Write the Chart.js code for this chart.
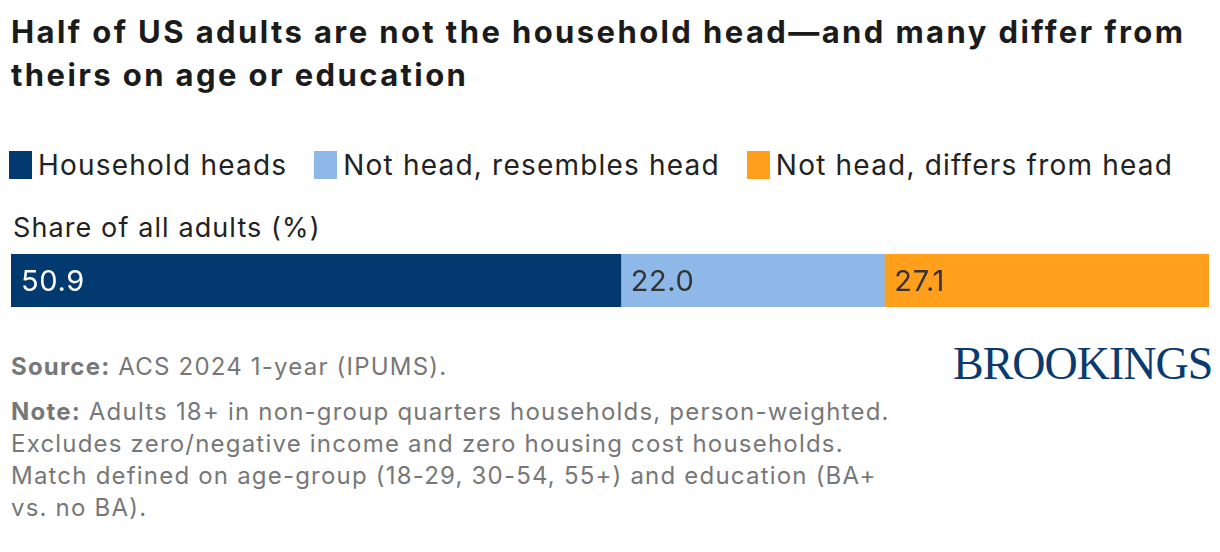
<!DOCTYPE html>
<html><head><meta charset="utf-8">
<script src="https://cdn.jsdelivr.net/npm/chart.js@4.4.1/dist/chart.umd.min.js"></script>
<style>
html,body{margin:0;padding:0;background:#fff;width:1220px;height:552px;overflow:hidden;font-family:Inter,"Noto Sans",sans-serif;}
#title{position:absolute;left:11px;top:10px;width:1205px;font-size:31px;font-weight:700;line-height:43px;color:#1b1b1b;letter-spacing:2.4px;}
#legend{position:absolute;left:9px;top:148px;display:flex;align-items:center;font-size:28px;color:#222;letter-spacing:1.2px;}
.li{display:flex;align-items:center;margin-right:27px;}
.sw{width:23px;height:28px;margin-right:6px;}
#axlabel{position:absolute;left:13px;top:211px;font-size:27px;color:#222;letter-spacing:1.1px;}
#wrap{position:absolute;left:11px;top:254px;width:1198px;height:53px;}
#notes{position:absolute;left:11px;top:351px;font-size:24px;color:#777;line-height:32px;width:950px;letter-spacing:1.2px;}
#notes p{margin:0;}
#notes p.src{margin-bottom:13px;}
#notes b{font-weight:700;}
#logo{position:absolute;left:953px;top:337px;font-family:"Liberation Serif","DejaVu Serif",serif;font-size:46px;color:#0a3a6e;letter-spacing:-1px;}
</style></head>
<body>
<div id="title">Half of US adults are not the household head—and many differ from theirs on age or education</div>
<div id="legend"></div>
<div id="axlabel">Share of all adults (%)</div>
<div id="wrap"><canvas id="c"></canvas></div>
<div id="notes">
<p class="src"><b>Source:</b> ACS 2024 1-year (IPUMS).</p>
<p><b>Note:</b> Adults 18+ in non-group quarters households, person-weighted.<br>Excludes zero/negative income and zero housing cost households.<br>Match defined on age-group (18-29, 30-54, 55+) and education (BA+<br>vs. no BA).</p>
</div>
<div id="logo">BROOKINGS</div>
<script>
const categories = ["Share of all adults (%)"];
const seriesNames = ["Household heads", "Not head, resembles head", "Not head, differs from head"];
const householdHeads = [50.9];
const resemblesHead = [22.0];
const differsFromHead = [27.1];
const seriesColors = ["#023a70", "#8db8e8", "#ff9f1c"];
const labelColors = ["#ffffff", "#333333", "#333333"];

const lg = document.getElementById('legend');
seriesNames.forEach((n,i)=>{
  const d=document.createElement('div');d.className='li';
  d.innerHTML='<span class="sw" style="background:'+seriesColors[i]+'"></span><span>'+n+'</span>';
  lg.appendChild(d);
});

const labelPlugin = {
  id:'barLabels',
  afterDatasetsDraw(chart){
    const ctx=chart.ctx;
    chart.data.datasets.forEach((ds,di)=>{
      const meta=chart.getDatasetMeta(di);
      meta.data.forEach((el,i)=>{
        const left=Math.min(el.x,el.base);
        ctx.save();
        ctx.font='29px Inter';
        try{ctx.letterSpacing='0.6px';}catch(e){}
        ctx.fillStyle=labelColors[di];
        ctx.textBaseline='middle';
        ctx.textAlign='left';
        ctx.fillText(ds.data[i].toFixed(1), left+10, el.y+2);
        ctx.restore();
      });
    });
  }
};

new Chart(document.getElementById('c'),{
  type:'bar',
  data:{labels:categories,datasets:[
    {label:seriesNames[0],data:householdHeads,backgroundColor:seriesColors[0]},
    {label:seriesNames[1],data:resemblesHead,backgroundColor:seriesColors[1]},
    {label:seriesNames[2],data:differsFromHead,backgroundColor:seriesColors[2]}
  ]},
  options:{
    indexAxis:'y',responsive:true,maintainAspectRatio:false,animation:false,
    datasets:{bar:{barPercentage:1,categoryPercentage:1,borderWidth:0}},
    layout:{padding:0},
    scales:{x:{stacked:true,min:0,max:100,display:false},y:{stacked:true,display:false}},
    plugins:{legend:{display:false},tooltip:{enabled:false}}
  },
  plugins:[labelPlugin]
});
</script>
</body></html>
